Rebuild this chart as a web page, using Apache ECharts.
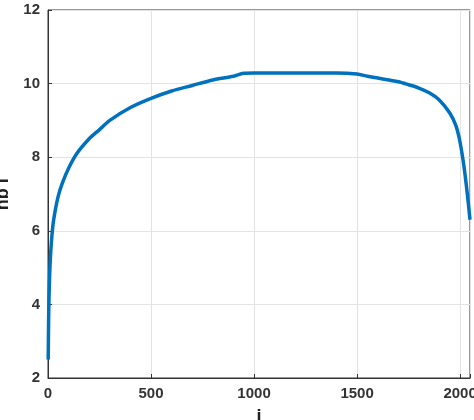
<!DOCTYPE html>
<html><head><meta charset="utf-8">
<script src="https://cdn.jsdelivr.net/npm/echarts@6/dist/echarts.min.js"></script>
<style>html,body{margin:0;padding:0;background:#fff}#c{width:474px;height:420px}</style>
</head><body><div id="c"></div>
<script>
const iVals = [1,3,5,8,12,18,25,35,50,70,100,140,200,250,300,400,500,600,700,800,900,950,1000,1100,1200,1300,1400,1500,1550,1600,1700,1750,1800,1850,1900,1950,1980,2000,2020,2035,2048];
const nbf   = [2.5,3.6,4.2,4.8,5.3,5.8,6.2,6.55,6.95,7.3,7.7,8.1,8.5,8.75,9.0,9.35,9.6,9.8,9.95,10.1,10.2,10.28,10.29,10.29,10.29,10.29,10.29,10.26,10.2,10.15,10.05,9.97,9.88,9.75,9.55,9.2,8.85,8.4,7.7,7.0,6.3];
const xTicks = [0,500,1000,1500,2000];
const chart = echarts.init(document.getElementById('c'));
chart.setOption({
  animation:false,
  grid:{left:48,right:4,top:10,bottom:42,containLabel:false,outerBoundsMode:'none',show:true,borderColor:'#333',borderWidth:1},
  xAxis:{type:'value',min:0,max:2048,interval:500,name:'i',nameLocation:'middle',nameGap:30,
    nameTextStyle:{fontSize:18,fontWeight:'bold',color:'#222',fontFamily:'Arial, Liberation Sans'},
    axisLine:{lineStyle:{color:'#333'}},axisTick:{inside:true,length:4},
    axisLabel:{fontSize:15,fontWeight:'bold',color:'#333',fontFamily:'Arial, Liberation Sans',formatter:v=>xTicks.includes(v)?String(v):''},
    splitLine:{lineStyle:{color:'#e3e3e3'}}},
  yAxis:{type:'value',min:2,max:12,interval:2,name:"nb'f",nameLocation:'middle',nameGap:30,
    nameTextStyle:{fontSize:18,fontWeight:'bold',color:'#222',fontFamily:'Arial, Liberation Sans'},
    axisLine:{show:true,lineStyle:{color:'#333'}},axisTick:{show:true,inside:true,length:4},
    axisLabel:{fontSize:15,fontWeight:'bold',color:'#333',fontFamily:'Arial, Liberation Sans'},
    splitLine:{lineStyle:{color:'#e3e3e3'}}},
  series:[{type:'line',data:iVals.map((x,k)=>[x,nbf[k]]),showSymbol:false,smooth:0.3,
    lineStyle:{color:'#0072BD',width:3.5}}]
});
</script></body></html>
